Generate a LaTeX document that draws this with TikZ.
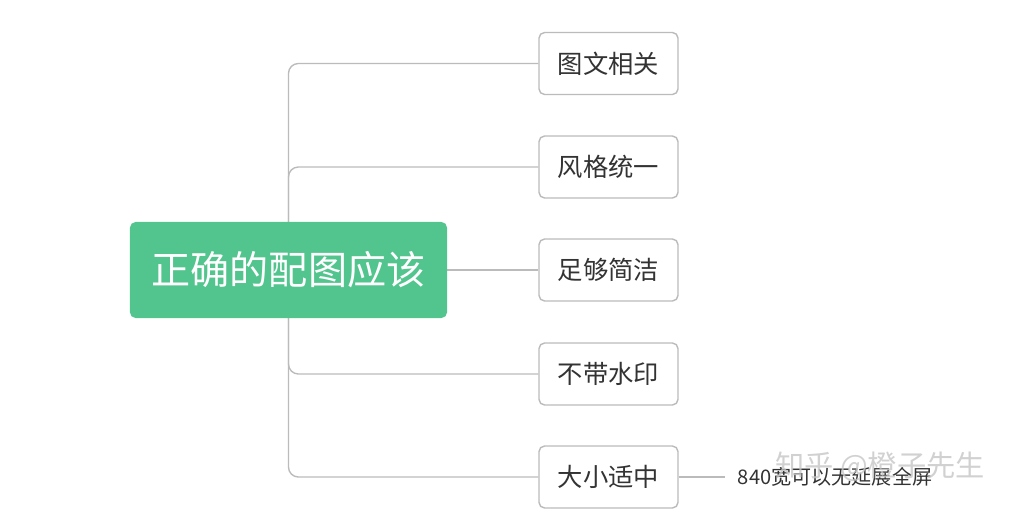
\documentclass[tikz,border=0pt]{standalone}
\usepackage{fontspec}
\setmainfont{Noto Sans CJK SC}
\usepackage{xcolor}
\usepackage{tikz}
\usetikzlibrary{positioning,backgrounds}
\definecolor{mgreen}{HTML}{52C48D}
\definecolor{mgray}{HTML}{BBBBBB}
\definecolor{mtext}{HTML}{333333}

\begin{document}
\begin{tikzpicture}[x=0.025cm,y=-0.025cm,
  leaf/.style={draw=mgray,line width=1pt,rounded corners=4pt,fill=white,minimum width=3.475cm,minimum height=1.55cm,text=mtext,font=\fontsize{18}{20}\selectfont},
  link/.style={draw=mgray,line width=1pt,rounded corners=7pt}]
  \useasboundingbox (0,0) rectangle (1018,513);
  \node[fill=mgreen,rounded corners=4pt,minimum width=7.925cm,minimum height=2.4cm,text=white,font=\fontsize{27.8}{30}\selectfont] (root) at (288.5,270) {正确的配图应该};
  \node[leaf] (c1) at (608.5,63.5) {图文相关};
  \node[leaf] (c2) at (608.5,167) {风格统一};
  \node[leaf] (c3) at (608.5,270) {足够简洁};
  \node[leaf] (c4) at (608.5,374) {不带水印};
  \node[leaf] (c5) at (608.5,477) {大小适中};
  \node[anchor=west,inner xsep=9pt,text=mtext,font=\fontsize{14.3}{16}\selectfont] (note) at (725,477) {840宽可以无延展全屏};
  \node[text=gray!45,opacity=0.8,font=\fontsize{20.8}{23}\selectfont] (mark) at (880,467) {知乎 @橙子先生};
  \begin{scope}[on background layer]
    \draw[link] (root.center) |- (c1.west);
    \draw[link] (root.center) |- (c2.west);
    \draw[link] (root) -- (c3);
    \draw[link] (root.center) |- (c4.west);
    \draw[link] (root.center) |- (c5.west);
    \draw[link] (c5) -- (note);
  \end{scope}
\end{tikzpicture}
\end{document}
